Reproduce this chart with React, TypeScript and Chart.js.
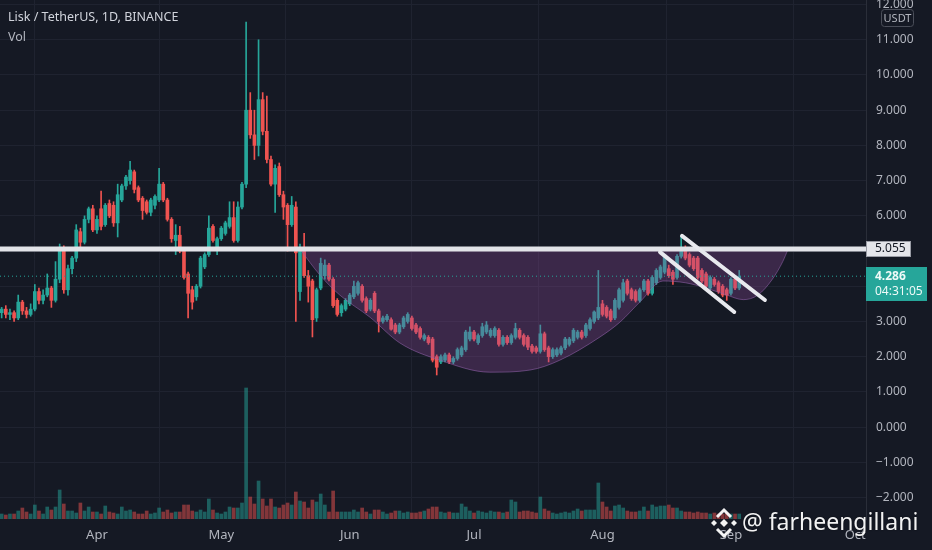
import React, { useEffect, useRef } from "react";
import { Chart, registerables } from "chart.js";

Chart.register(...registerables);

// Day numbers are counted from 1 March 2021 (day 1). First candle = 8 March.
const firstDay = 8;

const opens = [
  3.25, 3.35, 3.2, 3.25, 3.1, 3.55, 3.3, 3.2, 3.35, 3.85, 3.6, 3.75, 3.95, 3.6, 4.2, 5.1,
  3.9, 4.5, 4.8, 5.55, 5.25, 5.9, 6.2, 5.6, 6.2, 5.75, 6.35, 6.3, 5.8, 6.45, 6.85, 7.0,
  7.25, 6.8, 6.5, 6.4, 6.1, 6.3, 6.45, 6.9, 6.45, 5.9, 5.3, 5.45, 5.0, 4.35, 3.9, 3.7,
  4.0, 4.55, 4.9, 5.7, 5.1, 5.35, 5.5, 5.7, 5.95, 5.3, 6.25, 6.9, 9.0, 8.3, 8.0, 9.3,
  8.4, 7.6, 6.9, 7.4, 6.6, 6.3, 5.75, 6.25, 3.85, 5.0, 4.3, 4.15, 3.1, 3.95, 4.3, 4.6,
  4.2, 3.6, 3.25, 3.35, 3.5, 3.7, 3.8, 4.0, 3.65, 3.35, 3.8, 3.3, 3.0, 3.05, 3.05, 2.9,
  2.7, 2.85, 3.0, 3.1, 2.9, 2.8, 2.5, 2.55, 2.5, 2.0, 1.85, 1.9, 2.05, 1.85, 1.95, 2.05,
  2.2, 2.5, 2.7, 2.4, 2.6, 2.7, 2.6, 2.6, 2.75, 2.35, 2.55, 2.4, 2.55, 2.75, 2.6, 2.55,
  2.3, 2.25, 2.15, 2.65, 2.25, 2.0, 2.05, 2.1, 2.25, 2.35, 2.45, 2.55, 2.7, 2.6, 2.8, 3.0,
  3.1, 3.5, 3.4, 3.3, 3.1, 3.4, 3.6, 4.15, 3.9, 3.85, 3.6, 3.9, 4.15, 3.8, 4.1, 4.25,
  4.4, 4.5, 4.4, 4.25, 4.85, 5.1, 4.9, 4.8, 4.8, 4.45, 4.35, 3.95, 4.2, 4.1, 4.0, 3.9,
  3.8, 4.2, 3.95,
];
const highs = [
  3.4, 3.45, 3.35, 3.3, 3.75, 3.6, 3.4, 3.5, 4.05, 3.95, 3.9, 4.35, 4.0, 4.7, 5.2, 5.15,
  4.6, 4.85, 5.75, 5.65, 6.0, 6.25, 6.3, 6.0, 6.7, 6.35, 6.45, 6.4, 6.9, 6.9, 7.15, 7.55,
  7.3, 6.85, 6.55, 6.45, 6.5, 6.6, 7.35, 6.95, 6.5, 5.95, 5.75, 5.7, 5.05, 4.4, 4.0, 4.05,
  4.85, 4.95, 6.0, 5.75, 5.4, 5.7, 5.85, 6.4, 6.4, 6.4, 6.95, 11.5, 9.5, 9.0, 11.0, 9.5,
  9.4, 7.7, 7.45, 7.5, 6.7, 6.35, 6.55, 6.4, 5.2, 5.5, 4.45, 4.2, 3.95, 4.8, 4.75, 4.65,
  4.25, 3.65, 3.5, 3.65, 3.8, 4.15, 4.15, 4.05, 3.7, 3.65, 3.85, 3.35, 3.15, 3.2, 3.1, 2.95,
  2.95, 3.15, 3.25, 3.15, 2.95, 2.85, 2.65, 2.6, 2.55, 2.05, 2.05, 2.1, 2.1, 2.0, 2.25, 2.3,
  2.75, 2.85, 2.75, 2.65, 2.95, 3.0, 2.8, 2.85, 2.8, 2.6, 2.6, 2.65, 2.95, 2.8, 2.65, 2.6,
  2.35, 2.3, 2.9, 2.7, 2.3, 2.25, 2.25, 2.3, 2.55, 2.55, 2.8, 2.75, 2.75, 2.95, 3.1, 3.3,
  4.45, 3.6, 3.45, 3.35, 3.65, 3.95, 4.2, 4.2, 3.95, 3.9, 3.95, 4.2, 4.2, 4.3, 4.5, 4.6,
  4.9, 4.6, 4.45, 4.9, 5.45, 5.15, 4.95, 4.85, 4.85, 4.5, 4.4, 4.3, 4.25, 4.15, 4.05, 3.95,
  4.25, 4.25, 4.45,
];
const lows = [
  3.1, 3.1, 3.05, 3.0, 3.05, 3.2, 3.1, 3.15, 3.3, 3.5, 3.5, 3.7, 3.4, 3.55, 4.1, 3.8,
  3.75, 4.35, 4.7, 5.1, 5.2, 5.8, 5.55, 5.5, 5.6, 5.7, 5.95, 5.7, 5.4, 6.4, 6.75, 6.9,
  6.65, 6.4, 5.9, 6.05, 6.0, 6.2, 6.4, 6.4, 5.85, 5.25, 4.9, 4.95, 4.2, 3.1, 3.35, 3.6,
  3.95, 4.5, 4.85, 5.25, 4.9, 5.3, 5.45, 5.65, 5.25, 5.25, 6.2, 6.8, 8.2, 7.6, 7.7, 8.3,
  7.5, 6.85, 6.1, 6.55, 5.9, 5.0, 5.7, 3.0, 3.6, 4.25, 3.55, 2.56, 3.0, 3.9, 4.2, 4.15,
  3.4, 3.15, 3.15, 3.3, 3.45, 3.65, 3.75, 3.55, 3.25, 3.3, 3.25, 2.7, 2.95, 3.0, 2.75, 2.65,
  2.65, 2.8, 2.95, 2.75, 2.65, 2.5, 2.45, 2.35, 1.85, 1.48, 1.8, 1.85, 1.8, 1.8, 1.9, 2.0,
  2.15, 2.45, 2.45, 2.35, 2.55, 2.65, 2.55, 2.55, 2.3, 2.3, 2.35, 2.35, 2.5, 2.5, 2.3, 2.2,
  2.1, 2.1, 2.1, 2.15, 1.85, 1.95, 2.0, 2.05, 2.2, 2.3, 2.4, 2.5, 2.5, 2.55, 2.75, 2.95,
  3.05, 3.15, 3.1, 3.0, 3.05, 3.35, 3.55, 3.75, 3.6, 3.55, 3.55, 3.85, 3.75, 3.75, 4.05, 4.2,
  4.35, 4.25, 4.05, 4.2, 4.8, 4.75, 4.55, 4.45, 4.2, 4.1, 3.95, 3.9, 4.0, 3.8, 3.7, 3.6,
  3.75, 3.9, 3.9,
];
const closes = [
  3.35, 3.2, 3.25, 3.1, 3.55, 3.3, 3.2, 3.35, 3.85, 3.6, 3.75, 3.95, 3.6, 4.2, 5.1, 3.9,
  4.5, 4.8, 5.6, 5.25, 5.9, 6.2, 5.6, 5.9, 5.7, 6.3, 6.0, 5.8, 6.6, 6.85, 7.1, 7.3,
  6.75, 6.45, 6.15, 6.1, 6.45, 6.55, 6.9, 6.45, 5.9, 5.35, 5.45, 5.0, 4.25, 3.8, 3.55, 4.0,
  4.8, 4.9, 5.65, 5.3, 5.35, 5.65, 5.8, 5.95, 5.3, 6.25, 6.9, 9.0, 8.3, 8.0, 9.3, 8.4,
  7.6, 6.9, 7.35, 6.6, 6.25, 5.75, 6.3, 4.95, 5.0, 4.3, 4.0, 3.05, 3.9, 4.65, 4.6, 4.2,
  3.45, 3.2, 3.45, 3.6, 3.75, 4.0, 4.1, 3.6, 3.3, 3.6, 3.3, 3.0, 3.1, 3.15, 2.78, 2.7,
  2.9, 3.1, 3.2, 2.8, 2.7, 2.55, 2.6, 2.4, 1.9, 1.7, 2.0, 2.05, 1.85, 1.95, 2.2, 2.25,
  2.7, 2.7, 2.5, 2.6, 2.85, 2.9, 2.75, 2.8, 2.35, 2.55, 2.4, 2.6, 2.8, 2.55, 2.35, 2.27,
  2.15, 2.15, 2.65, 2.2, 2.0, 2.2, 2.2, 2.25, 2.5, 2.5, 2.75, 2.7, 2.55, 2.9, 3.05, 3.27,
  3.4, 3.2, 3.15, 3.05, 3.6, 3.9, 4.1, 3.8, 3.65, 3.6, 3.9, 4.15, 3.8, 4.25, 4.45, 4.55,
  4.85, 4.3, 4.2, 4.85, 5.1, 4.8, 4.6, 4.5, 4.25, 4.15, 4.0, 4.25, 4.05, 3.85, 3.75, 3.75,
  4.2, 3.95, 4.286,
];
const volumes = [
  5, 4, 5, 5, 8, 11, 7, 5, 14, 8, 5, 12, 9, 12, 29, 15, 8, 8, 6, 16, 8, 12, 7, 7,
  5, 13, 7, 6, 5, 12, 8, 9, 7, 5, 5, 8, 5, 6, 11, 7, 9, 6, 7, 7, 14, 14, 8, 7,
  9, 7, 20, 9, 6, 5, 7, 12, 11, 11, 16, 131, 22, 15, 38, 20, 13, 20, 12, 11, 14, 16,
  14, 27, 18, 17, 11, 19, 17, 25, 14, 7, 28, 7, 7, 7, 7, 9, 7, 11, 7, 5, 9, 9,
  7, 5, 6, 8, 8, 6, 7, 6, 6, 7, 8, 10, 12, 12, 7, 6, 7, 6, 6, 15, 12, 8,
  6, 8, 7, 6, 8, 7, 7, 6, 7, 19, 17, 7, 8, 8, 7, 6, 22, 10, 8, 6, 5, 6,
  7, 6, 8, 10, 8, 9, 9, 9, 36, 17, 12, 8, 13, 14, 11, 8, 7, 7, 8, 12, 8, 14,
  12, 13, 13, 14, 11, 11, 8, 7, 7, 6, 7, 6, 6, 5, 6, 5, 5, 6, 5, 5, 5,
];

const monthTickDays = [31, 61, 92, 122, 153, 184, 214];
const monthLabels = ["Apr", "May", "Jun", "Jul", "Aug", "Sep", "Oct"];
const priceTicks = [-2, -1, 0, 1, 2, 3, 4, 5, 6, 7, 8, 9, 10, 11, 12];

const resistanceLevel = 5.055;
const lastPrice = 4.286;
const countdownText = "04:31:05";
const titleText = "Lisk / TetherUS, 1D, BINANCE";
const volText = "Vol";
const currencyText = "USDT";
const watermarkText = "@ farheengillani";

// Cup ("rounding bottom") outline, in (day, price)
const cupDays = [80.0, 84.8, 89.6, 96.9, 104.1, 113.8, 125.8, 135.5, 142.7, 152.4, 157.2, 162.0, 167.6, 173.0, 178.0, 183.0, 187.0, 190.5, 194.0, 196.5, 197.8];
const cupPrices = [5.055, 4.32, 3.75, 3.12, 2.39, 1.9, 1.56, 1.62, 1.9, 2.56, 2.98, 3.55, 4.15, 4.1, 3.95, 3.75, 3.62, 3.75, 4.2, 4.7, 5.055];

// Falling channel lines
const upperChannelDays = [172.2, 192.2];
const upperChannelPrices = [5.43, 3.61];
const lowerChannelDays = [166.9, 184.8];
const lowerChannelPrices = [4.97, 3.27];

const X_MIN = 7.6;
const X_MAX = 216.6;
const Y_MIN = -2.61;
const Y_MAX = 12.13;

const BG = "#151924";
const GRID = "#1f2330";
const TEXT = "#b2b5be";
const UP = "#26a69a";
const DOWN = "#ef5350";
const FONT = '"Noto Sans", "DejaVu Sans", sans-serif';

function fmtPrice(v: number): string {
  const s = Math.abs(v).toFixed(3);
  return v < 0 ? "\u2212" + s : s;
}

const overlayPlugin = {
  id: "tvOverlay",
  beforeDraw(chart: any) {
    const { ctx, width, height } = chart;
    ctx.save();
    ctx.fillStyle = BG;
    ctx.fillRect(0, 0, width, height);
    ctx.restore();
  },
  afterDraw(chart: any) {
    const ctx = chart.ctx as CanvasRenderingContext2D;
    const yS = chart.scales.y;
    const area = chart.chartArea;
    ctx.save();

    // Title / Vol legend
    ctx.textBaseline = "middle";
    ctx.textAlign = "left";
    ctx.font = `12.5px ${FONT}`;
    ctx.fillStyle = "#d1d4dc";
    ctx.fillText(titleText, 8, 17);
    ctx.fillStyle = TEXT;
    ctx.fillText(volText, 8, 37);

    // Resistance price label
    const ry = Math.round(yS.getPixelForValue(resistanceLevel));
    ctx.fillStyle = "#e4e5ea";
    ctx.fillRect(area.right, ry - 8, 45, 16);
    ctx.strokeStyle = "#9a9ca5";
    ctx.lineWidth = 1;
    ctx.strokeRect(area.right + 0.5, ry - 7.5, 44, 15);
    ctx.fillStyle = "#131722";
    ctx.font = `12px ${FONT}`;
    ctx.fillText(fmtPrice(resistanceLevel), area.right + 9, ry);

    // Last price label
    const ly = Math.round(yS.getPixelForValue(lastPrice));
    ctx.fillStyle = UP;
    ctx.fillRect(area.right, ly - 9, 61, 34);
    ctx.fillStyle = "#eefaf8";
    ctx.font = `bold 12px ${FONT}`;
    ctx.fillText(fmtPrice(lastPrice), area.right + 9, ly + 1);
    ctx.font = `12px ${FONT}`;
    ctx.fillText(countdownText, area.right + 9, ly + 16);

    // Currency box
    ctx.fillStyle = BG;
    ctx.strokeStyle = "#4a4e59";
    ctx.lineWidth = 1;
    ctx.beginPath();
    (ctx as any).roundRect(881.5, 9.5, 32, 17, 3);
    ctx.fill();
    ctx.stroke();
    ctx.fillStyle = TEXT;
    ctx.font = `11px ${FONT}`;
    ctx.textAlign = "center";
    ctx.fillText(currencyText, 897.5, 18.5);

    // Watermark: logo + handle
    const cx = 724, cy = 523;
    ctx.fillStyle = "rgba(255,255,255,0.95)";
    const diamond = (x: number, y: number, r: number) => {
      ctx.beginPath();
      ctx.moveTo(x, y - r);
      ctx.lineTo(x + r, y);
      ctx.lineTo(x, y + r);
      ctx.lineTo(x - r, y);
      ctx.closePath();
      ctx.fill();
    };
    diamond(cx, cy, 4);
    diamond(cx - 10, cy, 3);
    diamond(cx + 10, cy, 3);
    ctx.strokeStyle = "rgba(255,255,255,0.95)";
    ctx.lineWidth = 3;
    ctx.beginPath();
    ctx.moveTo(cx - 7, cy - 6);
    ctx.lineTo(cx, cy - 13);
    ctx.lineTo(cx + 7, cy - 6);
    ctx.stroke();
    ctx.beginPath();
    ctx.moveTo(cx - 7, cy + 6);
    ctx.lineTo(cx, cy + 13);
    ctx.lineTo(cx + 7, cy + 6);
    ctx.stroke();

    ctx.textAlign = "left";
    ctx.font = `23px ${FONT}`;
    ctx.shadowColor = "rgba(0,0,0,0.5)";
    ctx.shadowBlur = 2;
    ctx.fillStyle = "rgba(255,255,255,0.95)";
    ctx.fillText(watermarkText, 742, 523);
    ctx.restore();
  },
};

export default function App() {
  const canvasRef = useRef<HTMLCanvasElement | null>(null);

  useEffect(() => {
    document.body.style.margin = "0";
    document.body.style.background = BG;
    const canvas = canvasRef.current;
    if (!canvas) return;

    const days = closes.map((_, i) => firstDay + i);
    const isUp = closes.map((c, i) => c >= opens[i]);

    const wickData = days.map((d, i) => ({ x: d, y: [lows[i], highs[i]] }));
    const bodyData = days.map((d, i) => ({ x: d, y: [opens[i], closes[i]] }));
    const volData = days.map((d, i) => ({ x: d, y: volumes[i] }));
    const candleColors = isUp.map((u) => (u ? UP : DOWN));
    const volColors = isUp.map((u) => (u ? "rgba(38,166,154,0.5)" : "rgba(239,83,80,0.5)"));

    const cupData = cupDays.map((d, i) => ({ x: d, y: cupPrices[i] }));
    const upperData = upperChannelDays.map((d, i) => ({ x: d, y: upperChannelPrices[i] }));
    const lowerData = lowerChannelDays.map((d, i) => ({ x: d, y: lowerChannelPrices[i] }));
    const resData = [{ x: X_MIN, y: resistanceLevel }, { x: X_MAX, y: resistanceLevel }];
    const lastData = [{ x: X_MIN, y: lastPrice }, { x: X_MAX, y: lastPrice }];

    const chart = new Chart(canvas, {
      type: "bar",
      data: {
        datasets: [
          {
            type: "bar",
            label: "Vol",
            data: volData as any,
            yAxisID: "yv",
            backgroundColor: volColors,
            barThickness: 3,
            grouped: false,
            order: 10,
          },
          {
            type: "bar",
            label: "wick",
            data: wickData as any,
            yAxisID: "y",
            backgroundColor: candleColors,
            barThickness: 1,
            grouped: false,
            order: 9,
          },
          {
            type: "bar",
            label: "body",
            data: bodyData as any,
            yAxisID: "y",
            backgroundColor: candleColors,
            barThickness: 3,
            minBarLength: 1,
            grouped: false,
            order: 8,
          },
          {
            type: "line",
            label: "cup",
            data: cupData as any,
            yAxisID: "y",
            borderColor: "rgba(150,100,175,0.55)",
            borderWidth: 1,
            backgroundColor: "rgba(150,75,160,0.3)",
            fill: { value: resistanceLevel } as any,
            pointRadius: 0,
            cubicInterpolationMode: "monotone",
            order: 7,
          },
          {
            type: "line",
            label: "last",
            data: lastData as any,
            yAxisID: "y",
            borderColor: UP,
            borderWidth: 1,
            borderDash: [1, 3],
            pointRadius: 0,
            fill: false,
            order: 6,
          },
          {
            type: "line",
            label: "resistance",
            data: resData as any,
            yAxisID: "y",
            borderColor: "#e2e3e8",
            borderWidth: 5,
            pointRadius: 0,
            fill: false,
            order: 5,
          },
          {
            type: "line",
            label: "upper",
            data: upperData as any,
            yAxisID: "y",
            borderColor: "#e8e9ee",
            borderWidth: 4,
            borderCapStyle: "round",
            pointRadius: 0,
            fill: false,
            order: 4,
          },
          {
            type: "line",
            label: "lower",
            data: lowerData as any,
            yAxisID: "y",
            borderColor: "#e8e9ee",
            borderWidth: 4,
            borderCapStyle: "round",
            pointRadius: 0,
            fill: false,
            order: 4,
          },
        ],
      },
      options: {
        animation: false,
        responsive: false,
        maintainAspectRatio: false,
        events: [],
        layout: { padding: 0 },
        plugins: {
          legend: { display: false },
          tooltip: { enabled: false },
        },
        scales: {
          x: {
            type: "linear",
            min: X_MIN,
            max: X_MAX,
            offset: false,
            afterBuildTicks: (scale: any) => {
              scale.ticks = monthTickDays.map((v) => ({ value: v }));
            },
            afterFit: (scale: any) => {
              scale.height = 31;
              scale.paddingLeft = 0;
              scale.paddingRight = 0;
            },
            ticks: {
              autoSkip: false,
              maxRotation: 0,
              padding: 8,
              color: TEXT,
              font: { family: FONT, size: 13 },
              callback: (v: any) => {
                const idx = monthTickDays.indexOf(Number(v));
                return idx >= 0 ? monthLabels[idx] : "";
              },
            },
            grid: { color: GRID, drawTicks: false, lineWidth: 1 },
            border: { display: false },
          },
          y: {
            type: "linear",
            position: "right",
            min: Y_MIN,
            max: Y_MAX,
            afterBuildTicks: (scale: any) => {
              scale.ticks = priceTicks.map((v) => ({ value: v }));
            },
            afterFit: (scale: any) => {
              scale.width = 66;
              scale.paddingTop = 0;
              scale.paddingBottom = 0;
            },
            ticks: {
              padding: 10,
              color: TEXT,
              font: { family: FONT, size: 12 },
              callback: (v: any) => fmtPrice(Number(v)),
            },
            grid: { color: GRID, drawTicks: false, lineWidth: 1 },
            border: { display: true, color: "#2a2e39" },
          },
          yv: {
            type: "linear",
            display: false,
            min: 0,
            max: 519,
          },
        },
      } as any,
      plugins: [overlayPlugin],
    });

    return () => {
      chart.destroy();
    };
  }, []);

  return (
    <div style={{ width: 932, height: 550, background: BG }}>
      <canvas ref={canvasRef} width={932} height={550} style={{ display: "block", width: 932, height: 550 }} />
    </div>
  );
}
